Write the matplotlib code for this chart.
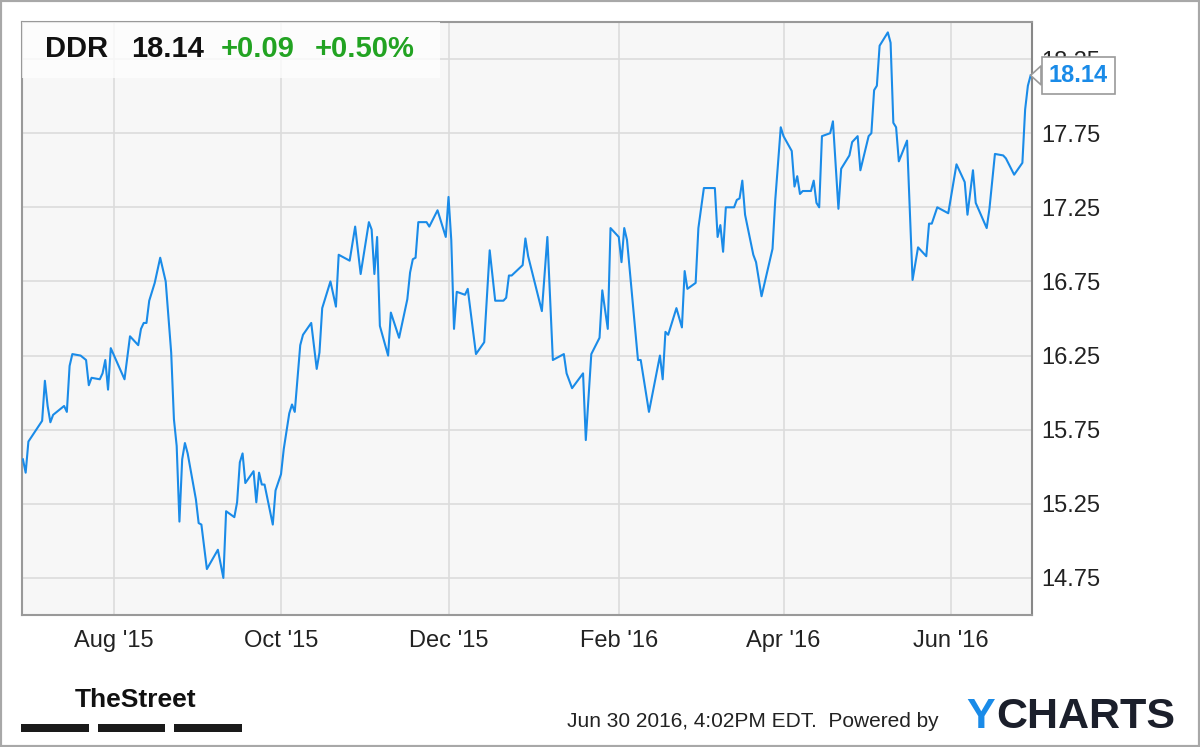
import matplotlib
matplotlib.use('Agg')
import matplotlib.pyplot as plt
import matplotlib.dates as mdates
import pandas as pd
from matplotlib.patches import Rectangle
from matplotlib.ticker import FormatStrFormatter

plt.rcParams['font.family'] = ['Liberation Sans', 'DejaVu Sans']

ticker = 'DDR'
last_price = '18.14'
change = '+0.09'
change_pct = '+0.50%'
stamp = 'Jun 30 2016, 4:02PM EDT.  Powered by'

# daily closes (turning points only)
dates = [
    '2015-06-29', '2015-06-30', '2015-07-01', '2015-07-06', '2015-07-07', '2015-07-08', '2015-07-09', '2015-07-10',
    '2015-07-14', '2015-07-15', '2015-07-16', '2015-07-17', '2015-07-20', '2015-07-22', '2015-07-23', '2015-07-24',
    '2015-07-27', '2015-07-28', '2015-07-29', '2015-07-30', '2015-07-31',
    '2015-08-05', '2015-08-07', '2015-08-10', '2015-08-11', '2015-08-12', '2015-08-13', '2015-08-14', '2015-08-16',
    '2015-08-18', '2015-08-19', '2015-08-20', '2015-08-22', '2015-08-23', '2015-08-24', '2015-08-25', '2015-08-26',
    '2015-08-27', '2015-08-28', '2015-08-31',
    '2015-09-01', '2015-09-02', '2015-09-04', '2015-09-08', '2015-09-10', '2015-09-11', '2015-09-14', '2015-09-15',
    '2015-09-16', '2015-09-17', '2015-09-18', '2015-09-21', '2015-09-22', '2015-09-23', '2015-09-24', '2015-09-25',
    '2015-09-28', '2015-09-29',
    '2015-10-01', '2015-10-02', '2015-10-04', '2015-10-05', '2015-10-06', '2015-10-08', '2015-10-09', '2015-10-12',
    '2015-10-14', '2015-10-15', '2015-10-16', '2015-10-19', '2015-10-21', '2015-10-22', '2015-10-26', '2015-10-28',
    '2015-10-30',
    '2015-11-02', '2015-11-03', '2015-11-04', '2015-11-05', '2015-11-06', '2015-11-09', '2015-11-10', '2015-11-13',
    '2015-11-16', '2015-11-17', '2015-11-18', '2015-11-19', '2015-11-20', '2015-11-23', '2015-11-24', '2015-11-27',
    '2015-11-30',
    '2015-12-01', '2015-12-02', '2015-12-03', '2015-12-04', '2015-12-07', '2015-12-08', '2015-12-11', '2015-12-14',
    '2015-12-16', '2015-12-18', '2015-12-21', '2015-12-22', '2015-12-23', '2015-12-24', '2015-12-28', '2015-12-29',
    '2015-12-30',
    '2016-01-04', '2016-01-06', '2016-01-08', '2016-01-12', '2016-01-13', '2016-01-15', '2016-01-19', '2016-01-20',
    '2016-01-22', '2016-01-25', '2016-01-26', '2016-01-28', '2016-01-29',
    '2016-02-01', '2016-02-02', '2016-02-03', '2016-02-04', '2016-02-08', '2016-02-09', '2016-02-12', '2016-02-16',
    '2016-02-17', '2016-02-18', '2016-02-19', '2016-02-22', '2016-02-24', '2016-02-25', '2016-02-26', '2016-02-29',
    '2016-03-01', '2016-03-03', '2016-03-07', '2016-03-08', '2016-03-09', '2016-03-10', '2016-03-11', '2016-03-14',
    '2016-03-15', '2016-03-16', '2016-03-17', '2016-03-18', '2016-03-21', '2016-03-22', '2016-03-24', '2016-03-28',
    '2016-03-29', '2016-03-31',
    '2016-04-01', '2016-04-04', '2016-04-05', '2016-04-06', '2016-04-07', '2016-04-08', '2016-04-11', '2016-04-12',
    '2016-04-13', '2016-04-14', '2016-04-15', '2016-04-18', '2016-04-19', '2016-04-21', '2016-04-22', '2016-04-25',
    '2016-04-26', '2016-04-28', '2016-04-29',
    '2016-05-02', '2016-05-03', '2016-05-04', '2016-05-05', '2016-05-06', '2016-05-09', '2016-05-10', '2016-05-11',
    '2016-05-12', '2016-05-13', '2016-05-16', '2016-05-18', '2016-05-20', '2016-05-23', '2016-05-24', '2016-05-25',
    '2016-05-27', '2016-05-31',
    '2016-06-03', '2016-06-06', '2016-06-07', '2016-06-09', '2016-06-10', '2016-06-14', '2016-06-15', '2016-06-17',
    '2016-06-20', '2016-06-21', '2016-06-24', '2016-06-27', '2016-06-28', '2016-06-29', '2016-06-30',
]
prices = [
    15.55, 15.46, 15.67, 15.81, 16.08, 15.91, 15.80, 15.85,
    15.91, 15.87, 16.18, 16.26, 16.25, 16.22, 16.05, 16.10,
    16.09, 16.13, 16.22, 16.02, 16.30,
    16.09, 16.38, 16.32, 16.43, 16.47, 16.47, 16.62, 16.74,
    16.91, 16.83, 16.75, 16.27, 15.82, 15.64, 15.13, 15.55,
    15.66, 15.59, 15.28,
    15.12, 15.11, 14.81, 14.94, 14.75, 15.20, 15.16, 15.26,
    15.53, 15.59, 15.39, 15.47, 15.26, 15.46, 15.38, 15.38,
    15.11, 15.34,
    15.45, 15.62, 15.86, 15.92, 15.87, 16.32, 16.39, 16.47,
    16.16, 16.27, 16.57, 16.75, 16.58, 16.93, 16.89, 17.12,
    16.80,
    17.15, 17.10, 16.80, 17.05, 16.45, 16.25, 16.54, 16.37,
    16.63, 16.81, 16.90, 16.91, 17.15, 17.15, 17.12, 17.23,
    17.05,
    17.32, 17.03, 16.43, 16.68, 16.66, 16.70, 16.26, 16.34,
    16.96, 16.62, 16.62, 16.64, 16.79, 16.79, 16.86, 17.04,
    16.92,
    16.55, 17.05, 16.22, 16.26, 16.13, 16.03, 16.13, 15.68,
    16.26, 16.37, 16.69, 16.43, 17.11,
    17.05, 16.88, 17.11, 17.03, 16.22, 16.22, 15.87, 16.25,
    16.09, 16.41, 16.39, 16.57, 16.44, 16.82, 16.70, 16.74,
    17.11, 17.38, 17.38, 17.05, 17.13, 16.95, 17.25, 17.25,
    17.30, 17.31, 17.43, 17.20, 16.93, 16.88, 16.65, 16.97,
    17.30, 17.79,
    17.73, 17.63, 17.39, 17.46, 17.34, 17.36, 17.36, 17.43,
    17.28, 17.25, 17.73, 17.75, 17.83, 17.24, 17.51, 17.60,
    17.69, 17.73, 17.50,
    17.73, 17.75, 18.04, 18.07, 18.34, 18.43, 18.36, 17.82,
    17.79, 17.56, 17.70, 16.76, 16.98, 16.92, 17.14, 17.14,
    17.25, 17.21,
    17.54, 17.42, 17.20, 17.50, 17.28, 17.11, 17.24, 17.61,
    17.60, 17.58, 17.47, 17.55, 17.91, 18.07, 18.14,
]

y_ticks = [14.75, 15.25, 15.75, 16.25, 16.75, 17.25, 17.75, 18.25]
tick_months = [2, 4, 6, 8, 10, 12]

dates = pd.to_datetime(dates)

blue = '#1a8be8'
green = '#22a322'
W, H = 1200, 747

fig = plt.figure(figsize=(W / 100, H / 100), dpi=100)
ax = fig.add_axes([22 / W, 1 - 615 / H, 1010 / W, 593 / H])
ax.set_facecolor('#f7f7f7')

ax.plot(dates, prices, color=blue, lw=1.5, zorder=3, solid_joinstyle='round')

ax.set_ylim(14.5, 18.5)
ax.set_xlim(dates[0] - pd.Timedelta(hours=8), dates[-1] + pd.Timedelta(hours=12))
ax.yaxis.tick_right()
ax.set_yticks(y_ticks)
ax.yaxis.set_major_formatter(FormatStrFormatter('%.2f'))
ax.xaxis.set_major_locator(mdates.MonthLocator(bymonth=tick_months))
ax.xaxis.set_major_formatter(mdates.DateFormatter("%b '%y"))
ax.tick_params(axis='both', length=0, labelsize=17, labelcolor='#222222')
ax.tick_params(axis='y', pad=7)
ax.tick_params(axis='x', pad=11)
ax.grid(True, color='#dcdcdc', lw=1.2)
ax.set_axisbelow(True)
for s in ax.spines.values():
    s.set_color('#999999')
    s.set_linewidth(1.5)
ax.spines['right'].set_color('#888888')

# header box with quote
ax.add_patch(Rectangle((0, 1 - 56 / 593), 418 / 1010, 56 / 593, transform=ax.transAxes,
                       fc='white', alpha=0.75, ec='none', zorder=4))
hy = 1 - 49 / H
fig.text(45 / W, hy, ticker, fontsize=21, fontweight='bold', va='center', color='#111111')
fig.text(131 / W, hy, last_price, fontsize=21, fontweight='bold', va='center', color='#111111')
fig.text(221 / W, hy, change, fontsize=21, fontweight='bold', va='center', color=green)
fig.text(315 / W, hy, change_pct, fontsize=21, fontweight='bold', va='center', color=green)

# last price callout (covers the top tick label, as in the original)
ax.annotate(last_price, xy=(dates[-1], prices[-1]), xytext=(13, 0), textcoords='offset points',
            ha='left', va='center', fontsize=17, fontweight='bold', color=blue,
            bbox=dict(boxstyle='square,pad=0.3', fc='white', ec='#9a9a9a', lw=1.2),
            arrowprops=dict(arrowstyle='wedge,tail_width=0.8', fc='white', ec='#9a9a9a', lw=1.2,
                            shrinkA=0, shrinkB=0),
            annotation_clip=False, zorder=10)

# footer
fig.text(75 / W, 1 - 700 / H, 'TheStreet', fontsize=19, fontweight='bold', va='center',
         family=['Liberation Sans Narrow', 'Liberation Sans'], color='#111111')
for x0, x1 in [(21, 89), (98, 165), (174, 242)]:
    fig.patches.append(Rectangle((x0 / W, 1 - 732 / H), (x1 - x0) / W, 8 / H,
                                 transform=fig.transFigure, fc='#1a1a1a', ec='none'))
fig.text(567 / W, 1 - 727 / H, stamp, fontsize=15, va='baseline', color='#222222')
fig.text(966 / W, 1 - 728 / H, 'Y', fontsize=31, fontweight='bold', va='baseline', color=blue)
fig.text(996 / W, 1 - 728 / H, 'CHARTS', fontsize=31, fontweight='bold', va='baseline', color='#1b1f2b')

fig.patches.append(Rectangle((0, 0), 1, 1, transform=fig.transFigure, fill=False,
                             ec='#a8a8a8', lw=3))

fig.savefig('out.png', dpi=100)
